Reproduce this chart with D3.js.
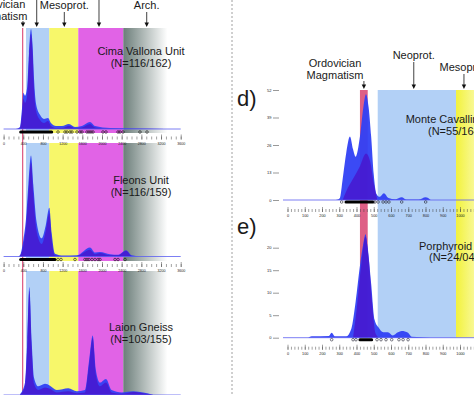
<!DOCTYPE html>
<html>
<head>
<meta charset="utf-8">
<script src="https://cdn.jsdelivr.net/npm/d3@7"></script>
<style>
  body { margin: 0; background: #fff; }
  svg { display: block; }
  text { font-family: "Liberation Sans", Arial, sans-serif; fill: #1a1a1a; }
</style>
</head>
<body>
<svg width="474" height="395"></svg>
<script>
/* global d3 */

// ---------- data (ages in Ma, densities) ----------
// left column: relative density, 0-100 of panel height
const cimaAge = [252, 333, 374, 404, 435, 476, 516, 557, 587, 618, 659, 740, 821, 902, 963, 1065, 1187, 1329, 1451, 1593, 1756, 1858, 2163, 2569, 3280];
const cimaKde = [0, 2, 20, 36, 33, 40, 75, 99, 85, 50, 25, 14, 10, 11, 6, 3, 3, 5, 2, 3, 7, 3, 1, 0.5, 0];
const cimaPdp = [0, 1, 14, 30, 26, 32, 68, 94, 78, 40, 18, 9, 6, 8, 3, 1, 1, 3, 1, 1.5, 5, 1.5, 0.3, 0.2, 0];

const fleonsAge = [299, 347, 401, 455, 503, 557, 604, 672, 774, 855, 929, 977, 1045, 1214, 1486, 1756, 1858, 1959, 2163, 2331, 2488, 2604, 2772];
const fleonsKde = [0, 2.5, 14.5, 33, 63, 89, 63, 30, 16, 27, 43, 21, 2.5, 0.8, 1, 8, 3.5, 4, 2, 1.5, 5.5, 1, 0];
const fleonsPdp = [0, 1.5, 10, 26, 55, 83, 55, 22, 11, 22, 38, 15, 1, 0.3, 0.5, 6, 2, 3, 1, 1, 5, 0.5, 0];

const laionAge = [333, 435, 482, 523, 571, 618, 706, 841, 943, 1079, 1315, 1486, 1654, 1742, 1811, 1872, 1959, 2081, 2197, 2400, 2636, 2839, 3043];
const laionKde = [0.5, 10, 44, 87, 43, 14, 7, 9, 7.5, 4, 5.5, 3, 4, 29, 48, 21, 10, 13, 4, 2, 3, 2, 0];
const laionPdp = [0, 7, 40, 84, 38, 9, 4, 6, 5, 2, 3, 1.5, 2, 26, 46, 17, 7, 10, 2, 1, 2.5, 1.5, 0];

// right column: counts on the printed y axis
const mcAge = [280, 304, 320, 340, 362, 380, 395, 420, 440, 455, 470, 485, 500, 515, 535, 559, 585, 625, 662, 690, 760, 801, 830];
const mcKde = [0, 1, 10, 22, 30, 24, 20.5, 30, 44, 50, 44, 30, 12, 3, 1.5, 3.2, 1, 0.3, 1.3, 0.2, 0.2, 1.3, 0];
const mcPdpAge = [320, 340, 380, 420, 455, 480, 500, 520];
const mcPdp = [0, 4, 10, 16, 22, 18, 8, 0.5];

const poAge = [120, 140, 240, 256, 275, 340, 370, 395, 420, 440, 452, 465, 485, 505, 527, 555, 582, 610, 640, 662, 699, 720, 830];
const poKde = [0, 0.3, 0.4, 1.1, 0.3, 0.3, 2, 8, 16, 21, 23, 20, 12, 4, 2.3, 1.2, 1.2, 0.5, 1.2, 1.5, 1.1, 0.2, 0];
const poPdpAge = [380, 400, 430, 452, 470, 490, 510, 530];
const poPdp = [0, 6, 17, 22.5, 18, 8, 1, 0];

// single grain ages shown as circles, plus the dense part drawn as a bar
const cimaDots = [1106, 1248, 1289, 1350, 1390, 1492, 1553, 1593, 1695, 1736, 1776, 1817, 2020, 2081, 2326, 2366, 2427, 2772, 2915];
const cimaBar = [347, 978];
const fleonsDots = [1106, 1167, 1451, 1654, 1695, 1736, 1797, 1858, 1919, 1959, 2265, 2326, 2468];
const fleonsBar = [347, 1045];
const mcDots = [314, 507, 525, 554, 571, 588, 662, 801];
const mcBar = [339, 496];
const poDots = [256, 380, 397, 519, 542, 571, 604, 646, 670, 699];
const poBar = [420, 488];

// time bands
const bandNames = ["ordovician", "neoprot", "mesoprot", "paleoprot", "arch"];
const leftBandFrom = [374, 455, 929, 1518, 2433];
const leftBandTo = [400, 929, 1518, 2433, 3330];
const rightBandNames = ["ordovician", "neoprot", "mesoprot"];
const rightBandFrom = [420, 523, 977];
const rightBandTo = [465, 977, 1190];

// arrows and their labels
const leftArrowAge = [394, 673, 1234, 1939, 2909];
const leftArrowLabel = [["Ordovician", "Magmatism"], [], ["Mesoprot."], [], ["Arch."]];
const rightArrowAge = [443, 732, 1023];
const rightArrowLabel = [["Ordovician", "Magmatism"], ["Neoprot."], ["Mesoprot."]];

// tick labels
const leftTickLabels = [0, 400, 800, 1200, 1600, 2000, 2400, 2800, 3200, 3600];
const rightTickLabels = [0, 100, 200, 300, 400, 500, 600, 700, 800, 900, 1000];
const dYTicks = [0, 13, 26, 39, 52];
const eYTicks = [0, 5, 10, 15, 20];

const unitNames = ["Cima Vallona Unit", "Fleons Unit", "Laion Gneiss", "Monte Cavallino Unit", "Porphyroid"];
const unitCounts = ["(N=116/162)", "(N=116/159)", "(N=103/155)", "(N=55/164)", "(N=24/048)"];

// ---------- styles ----------
const bandColor = {
  ordovician: "#de5f86",
  neoprot: "#b2d0f6",
  mesoprot: "#f7f76a",
  paleoprot: "#e163e6",
  arch: "url(#archGrad)"
};
const kdeColor = "#3040f4";
const pdpColor = "#4a12c9";

const svg = d3.select("svg");

const defs = svg.append("defs");
const archGrad = defs.append("linearGradient").attr("id", "archGrad");
archGrad.append("stop").attr("offset", "0%").attr("stop-color", "#6c7e7a");
archGrad.append("stop").attr("offset", "100%").attr("stop-color", "#ffffff");
const yelGrad = defs.append("linearGradient").attr("id", "yelGrad");
yelGrad.append("stop").attr("offset", "0%").attr("stop-color", "#f2f23c");
yelGrad.append("stop").attr("offset", "100%").attr("stop-color", "#ffffee");

// ---------- scales ----------
const xLeft = d3.scaleLinear().domain([0, 3600]).range([3.6, 180.7]);
const xRight = d3.scaleLinear().domain([0, 1000]).range([287.5, 460]);

const leftPanels = [
  { top: 28, base: 129, bandBottom: 133, age: cimaAge, kde: cimaKde, pdp: cimaPdp, dots: cimaDots, bar: cimaBar, nameY: 55 },
  { top: 143, base: 256.5, bandBottom: 261, age: fleonsAge, kde: fleonsKde, pdp: fleonsPdp, dots: fleonsDots, bar: fleonsBar, nameY: 183.5 },
  { top: 271, base: 395, bandBottom: 400, age: laionAge, kde: laionKde, pdp: laionPdp, dots: null, bar: null, nameY: 331 }
];

// bands of the left column
leftPanels.forEach((p) => {
  const g = svg.append("g");
  bandNames.forEach((b, i) => {
    if (b === "ordovician") return;
    g.append("rect")
      .attr("x", xLeft(leftBandFrom[i]))
      .attr("y", p.top)
      .attr("width", xLeft(leftBandTo[i]) - xLeft(leftBandFrom[i]))
      .attr("height", p.bandBottom - p.top)
      .attr("fill", bandColor[b]);
  });
});
// the Ordovician line runs through the whole left column
svg.append("rect")
  .attr("x", xLeft(leftBandFrom[0]))
  .attr("y", 28)
  .attr("width", xLeft(leftBandTo[0]) - xLeft(leftBandFrom[0]))
  .attr("height", 395 - 28)
  .attr("fill", bandColor.ordovician);

// bands of the right column
rightBandNames.forEach((b, i) => {
  svg.append("rect")
    .attr("x", xRight(rightBandFrom[i]))
    .attr("y", 90)
    .attr("width", xRight(rightBandTo[i]) - xRight(rightBandFrom[i]))
    .attr("height", 337.7 - 90)
    .attr("fill", b === "mesoprot" ? "url(#yelGrad)" : bandColor[b]);
});

// ---------- helpers ----------
function drawDensity(g, x, y, ages, vals, color, op) {
  const pts = ages.map((a, i) => [a, vals[i]]);
  g.append("path")
    .datum(pts)
    .attr("fill", color)
    .attr("fill-opacity", op)
    .attr("d", d3.area()
      .curve(d3.curveMonotoneX)
      .x((d) => x(d[0]))
      .y0(y(0))
      .y1((d) => y(d[1])));
}

function drawDots(g, x, cy, dots, bar, color) {
  if (bar) {
    g.append("line")
      .attr("x1", x(bar[0])).attr("x2", x(bar[1]))
      .attr("y1", cy).attr("y2", cy)
      .attr("stroke", "#000").attr("stroke-width", 3)
      .attr("stroke-linecap", "round");
  }
  g.selectAll("circle.dot")
    .data(dots || [])
    .enter().append("circle")
    .attr("class", "dot")
    .attr("cx", (d) => x(d))
    .attr("cy", cy)
    .attr("r", 1.3)
    .attr("fill", "none")
    .attr("stroke", color)
    .attr("stroke-width", 0.6);
}

function drawXTicks(g, x, yPos, minorStep, majorVals, maxVal, fontSize) {
  const minor = d3.axisBottom(x).tickValues(d3.range(0, maxVal + 1, minorStep))
    .tickSize(-3).tickFormat("");
  const major = d3.axisBottom(x).tickValues(majorVals).tickSize(-5).tickPadding(2.6)
    .tickFormat(d3.format("d"));
  const gm = g.append("g").attr("transform", `translate(0,${yPos})`).call(minor);
  const gM = g.append("g").attr("transform", `translate(0,${yPos})`).call(major);
  [gm, gM].forEach((a) => {
    a.select(".domain").remove();
    a.selectAll("line").attr("stroke", "#444").attr("stroke-width", 0.5);
  });
  gM.selectAll("text")
    .attr("font-size", fontSize)
    .attr("fill", "#222")
    .attr("font-family", "Liberation Sans, Arial, sans-serif");
}

function drawArrow(g, x, y1, y2) {
  g.append("line")
    .attr("x1", x).attr("x2", x)
    .attr("y1", y1).attr("y2", y2 - 3.5)
    .attr("stroke", "#111").attr("stroke-width", 0.8);
  g.append("path")
    .attr("d", `M${x - 2.2},${y2 - 4.5}L${x + 2.2},${y2 - 4.5}L${x},${y2}Z`)
    .attr("fill", "#111");
}

// ---------- left column ----------
leftPanels.forEach((p, i) => {
  const g = svg.append("g");
  const y = d3.scaleLinear().domain([0, 100]).range([p.base, p.top]);
  drawDensity(g, xLeft, y, p.age, p.kde, kdeColor, 0.95);
  drawDensity(g, xLeft, y, p.age, p.pdp, pdpColor, 0.75);
  g.append("line")
    .attr("x1", xLeft(0)).attr("x2", xLeft(3600))
    .attr("y1", p.base).attr("y2", p.base)
    .attr("stroke", "#5a5ef0").attr("stroke-width", 0.8);
  if (p.dots) {
    drawDots(g, xLeft, p.base + 3, p.dots, p.bar, "#111");
    drawXTicks(g, xLeft, p.base + 10.5, 100, leftTickLabels, 3600, 3.6);
  }
  g.append("text")
    .attr("x", 141).attr("y", p.nameY)
    .attr("text-anchor", "middle")
    .attr("font-size", 11)
    .text(unitNames[i]);
  g.append("text")
    .attr("x", 141).attr("y", p.nameY + 12)
    .attr("text-anchor", "middle")
    .attr("font-size", 11)
    .text(unitCounts[i]);
});

// arrows of the left column
const leftArrowTop = [21, 0, 12, 0, 12];
const gla = svg.append("g");
leftArrowAge.forEach((a, i) => {
  drawArrow(gla, xLeft(a), leftArrowTop[i], 27);
});
// labels of the left column
gla.append("text").attr("x", -1).attr("y", 8).attr("text-anchor", "middle")
  .attr("font-size", 11).text(leftArrowLabel[0][0]);
gla.append("text").attr("x", -1).attr("y", 19.5).attr("text-anchor", "middle")
  .attr("font-size", 11).text(leftArrowLabel[0][1]);
gla.append("text").attr("x", xLeft(leftArrowAge[2])).attr("y", 8.5).attr("text-anchor", "middle")
  .attr("font-size", 11).text(leftArrowLabel[2][0]);
gla.append("text").attr("x", xLeft(leftArrowAge[4])).attr("y", 8.5).attr("text-anchor", "middle")
  .attr("font-size", 11).text(leftArrowLabel[4][0]);

// divider
svg.append("line")
  .attr("x1", 232).attr("x2", 232)
  .attr("y1", 0).attr("y2", 395)
  .attr("stroke", "#888").attr("stroke-width", 0.8)
  .attr("stroke-dasharray", "2,2");

// ---------- right column ----------
const rightPanels = [
  { base: 200, yMax: 52, yTop: 90, ticks: dYTicks, age: mcAge, kde: mcKde, pdpAge: mcPdpAge, pdp: mcPdp,
    dots: mcDots, bar: mcBar, letter: "d)", letterY: 106, nameX: 405.7, nameY: 123.3, nX: 428, nY: 135 },
  { base: 337.7, yMax: 20, yTop: 247.7, ticks: eYTicks, age: poAge, kde: poKde, pdpAge: poPdpAge, pdp: poPdp,
    dots: poDots, bar: poBar, letter: "e)", letterY: 234, nameX: 419, nameY: 250, nX: 429, nY: 261 }
];

rightPanels.forEach((p, i) => {
  const g = svg.append("g");
  const y = d3.scaleLinear().domain([0, p.yMax]).range([p.base, p.yTop]);
  drawDensity(g, xRight, y, p.age, p.kde, kdeColor, 0.95);
  drawDensity(g, xRight, y, p.pdpAge, p.pdp, pdpColor, 0.75);
  g.append("line")
    .attr("x1", 283).attr("x2", 474)
    .attr("y1", p.base).attr("y2", p.base)
    .attr("stroke", "#5a5ef0").attr("stroke-width", 0.8);
  drawDots(g, xRight, p.base + 2, p.dots, p.bar, "#223");
  drawXTicks(g, xRight, p.base + 12, 20, rightTickLabels, 1080, 3.8);

  const ya = g.append("g")
    .attr("transform", "translate(279,0)")
    .call(d3.axisLeft(y).tickValues(p.ticks).tickSize(6).tickPadding(1.5));
  ya.select(".domain").remove();
  ya.selectAll("line").attr("stroke", "#333").attr("stroke-width", 0.5);
  ya.selectAll("text").attr("font-size", 4).attr("fill", "#222")
    .attr("font-family", "Liberation Sans, Arial, sans-serif");

  g.append("text")
    .attr("x", 237).attr("y", p.letterY)
    .attr("font-size", 22)
    .text(p.letter);
  g.append("text")
    .attr("x", p.nameX).attr("y", p.nameY)
    .attr("font-size", 11)
    .text(unitNames[3 + i]);
  g.append("text")
    .attr("x", p.nX).attr("y", p.nY)
    .attr("font-size", 11)
    .text(unitCounts[3 + i]);
});

// arrows of the right column
const rightArrowTop = [81, 62, 74];
const rightLabelY = [[66.7, 79.3], [59.3], [71]];
const gra = svg.append("g");
rightArrowAge.forEach((a, i) => {
  drawArrow(gra, xRight(a), rightArrowTop[i], 89);
  rightArrowLabel[i].forEach((t, j) => {
    gra.append("text")
      .attr("x", i === 0 ? 335 : xRight(a))
      .attr("y", rightLabelY[i][j])
      .attr("text-anchor", "middle")
      .attr("font-size", 11)
      .text(t);
  });
});
</script>
</body>
</html>
